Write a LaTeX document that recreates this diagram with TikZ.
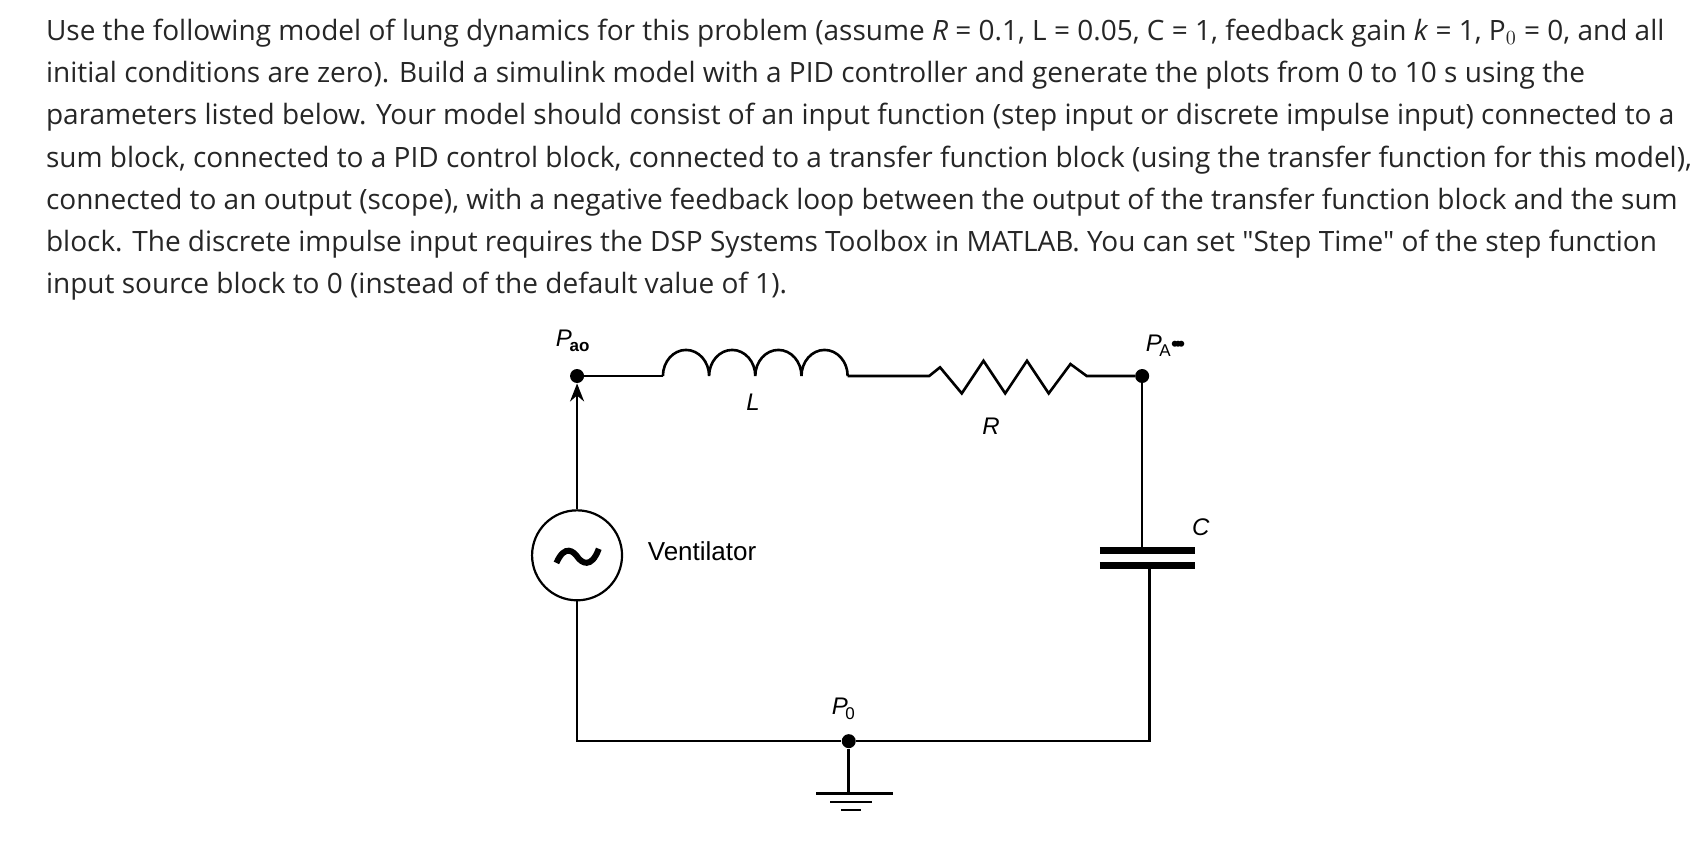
\documentclass[tikz,border=0pt]{standalone}
\usepackage{fontspec}
\setmainfont{Open Sans}
\newfontfamily\circfont{Liberation Sans}
\usetikzlibrary{arrows.meta}
\begin{document}
\begin{tikzpicture}[x=0.5435pt,y=-0.5435pt,
  txt/.style={anchor=base west,inner sep=0pt,font=\fontsize{14}{16}\selectfont,text=black!85},
  lab/.style={inner sep=0pt,font=\circfont\fontsize{12}{14}\selectfont},
  wire/.style={line width=1.3pt},
  dot/.style={circle,fill=black,inner sep=0pt,minimum size=7pt}]
\useasboundingbox (0,0) rectangle (1568,782);
\fill[white] (0,0) rectangle (1568,782);
\node[txt] (t1) at (42,37) {Use the following model of lung dynamics for this problem (assume \textit{R} = 0.1, L = 0.05, C = 1, feedback gain \textit{k} = 1, P$_0$ = 0, and all};
\node[txt] (t2) at (42,76) {initial conditions are zero). Build a simulink model with a PID controller and generate the plots from 0 to 10 s using the};
\node[txt] (t3) at (42,115) {parameters listed below. Your model should consist of an input function (step input or discrete impulse input) connected to a};
\node[txt] (t4) at (42,154) {sum block, connected to a PID control block, connected to a transfer function block (using the transfer function for this model),};
\node[txt] (t5) at (42,193) {connected to an output (scope), with a negative feedback loop between the output of the transfer function block and the sum};
\node[txt] (t6) at (42,231) {block. The discrete impulse input requires the DSP Systems Toolbox in MATLAB. You can set \textquotedbl Step Time\textquotedbl\ of the step function};
\node[txt] (t7) at (42,270) {input source block to 0 (instead of the default value of 1).};
% circuit
\node[dot] (pao) at (531,346) {};
\node[dot] (pa) at (1051,346) {};
\node[dot] (p0) at (781,682) {};
\coordinate (l1) at (610,346);
\coordinate (l2) at (780,346);
\coordinate (r1) at (855,346);
\coordinate (r2) at (1000,346);
\draw[wire] (pao) -- (l1);
\draw[wire] (l1) arc[start angle=180,end angle=360,x radius=21.25,y radius=24]
  arc[start angle=180,end angle=360,x radius=21.25,y radius=24]
  arc[start angle=180,end angle=360,x radius=21.25,y radius=24]
  arc[start angle=180,end angle=360,x radius=21.25,y radius=24];
\draw[wire] (l2) -- (r1) -- (865,338) -- (885,362) -- (905,332) -- (925,362) -- (945,332) -- (965,362) -- (985,335) -- (r2) -- (pa);
\node[lab,font=\circfont\itshape\fontsize{12}{14}\selectfont] (L) at (693,370) {L};
\node[lab,font=\circfont\itshape\fontsize{12}{14}\selectfont] (R) at (912,392) {R};
\node[lab,font=\circfont\itshape\fontsize{12}{14}\selectfont] (C) at (1105,485) {C};
\node[lab] (paolab) at (527,314) {\itshape P\kern-0.1em\raisebox{-0.4ex}{\fontsize{8.5}{9}\selectfont\upshape\bfseries ao}};
\node[lab,anchor=west] (palab) at (1054,318) {\itshape P\kern-0.1em\raisebox{-0.4ex}{\fontsize{8.5}{9}\selectfont\upshape A}\fontsize{11}{9}\selectfont\textbullet\kern-0.2em\textbullet\kern-0.2em\textbullet};
\node[lab] (p0lab) at (776,652) {\itshape P\kern-0.1em\raisebox{-0.4ex}{\fontsize{8.5}{9}\selectfont\upshape 0}};
\node[lab,font=\circfont\fontsize{13}{14}\selectfont] (vent) at (646,507) {Ventilator};
% source
\node[circle,draw,line width=1.1pt,minimum size=45pt,inner sep=0pt] (src) at (531,511) {};
\draw[line width=3pt] (512,518) .. controls (520,500) and (528,508) .. (531,512) .. controls (535,518) and (544,524) .. (551,505);
\draw[wire,-{Stealth[length=9pt,width=7pt]}] (src.north) -- (pao.south);
\draw[wire] (src.south) |- (p0.west);
% capacitor
\coordinate (c1) at (1051,507);
\coordinate (c2) at (1058,520);
\draw[wire] (pa) -- (c1);
\draw[line width=3.5pt] (1012,507) -- (1100,507);
\draw[line width=3.5pt] (1012,520) -- (1100,520);
\draw[wire] (c2) |- (p0.east);
% ground
\coordinate (g) at (781,730);
\draw[wire] (p0) -- (g);
\draw[wire] (751,730) -- (822,730);
\draw[line width=1pt] (764,738) -- (802,738);
\draw[line width=1pt] (774,745) -- (792,745);
\end{tikzpicture}
\end{document}
